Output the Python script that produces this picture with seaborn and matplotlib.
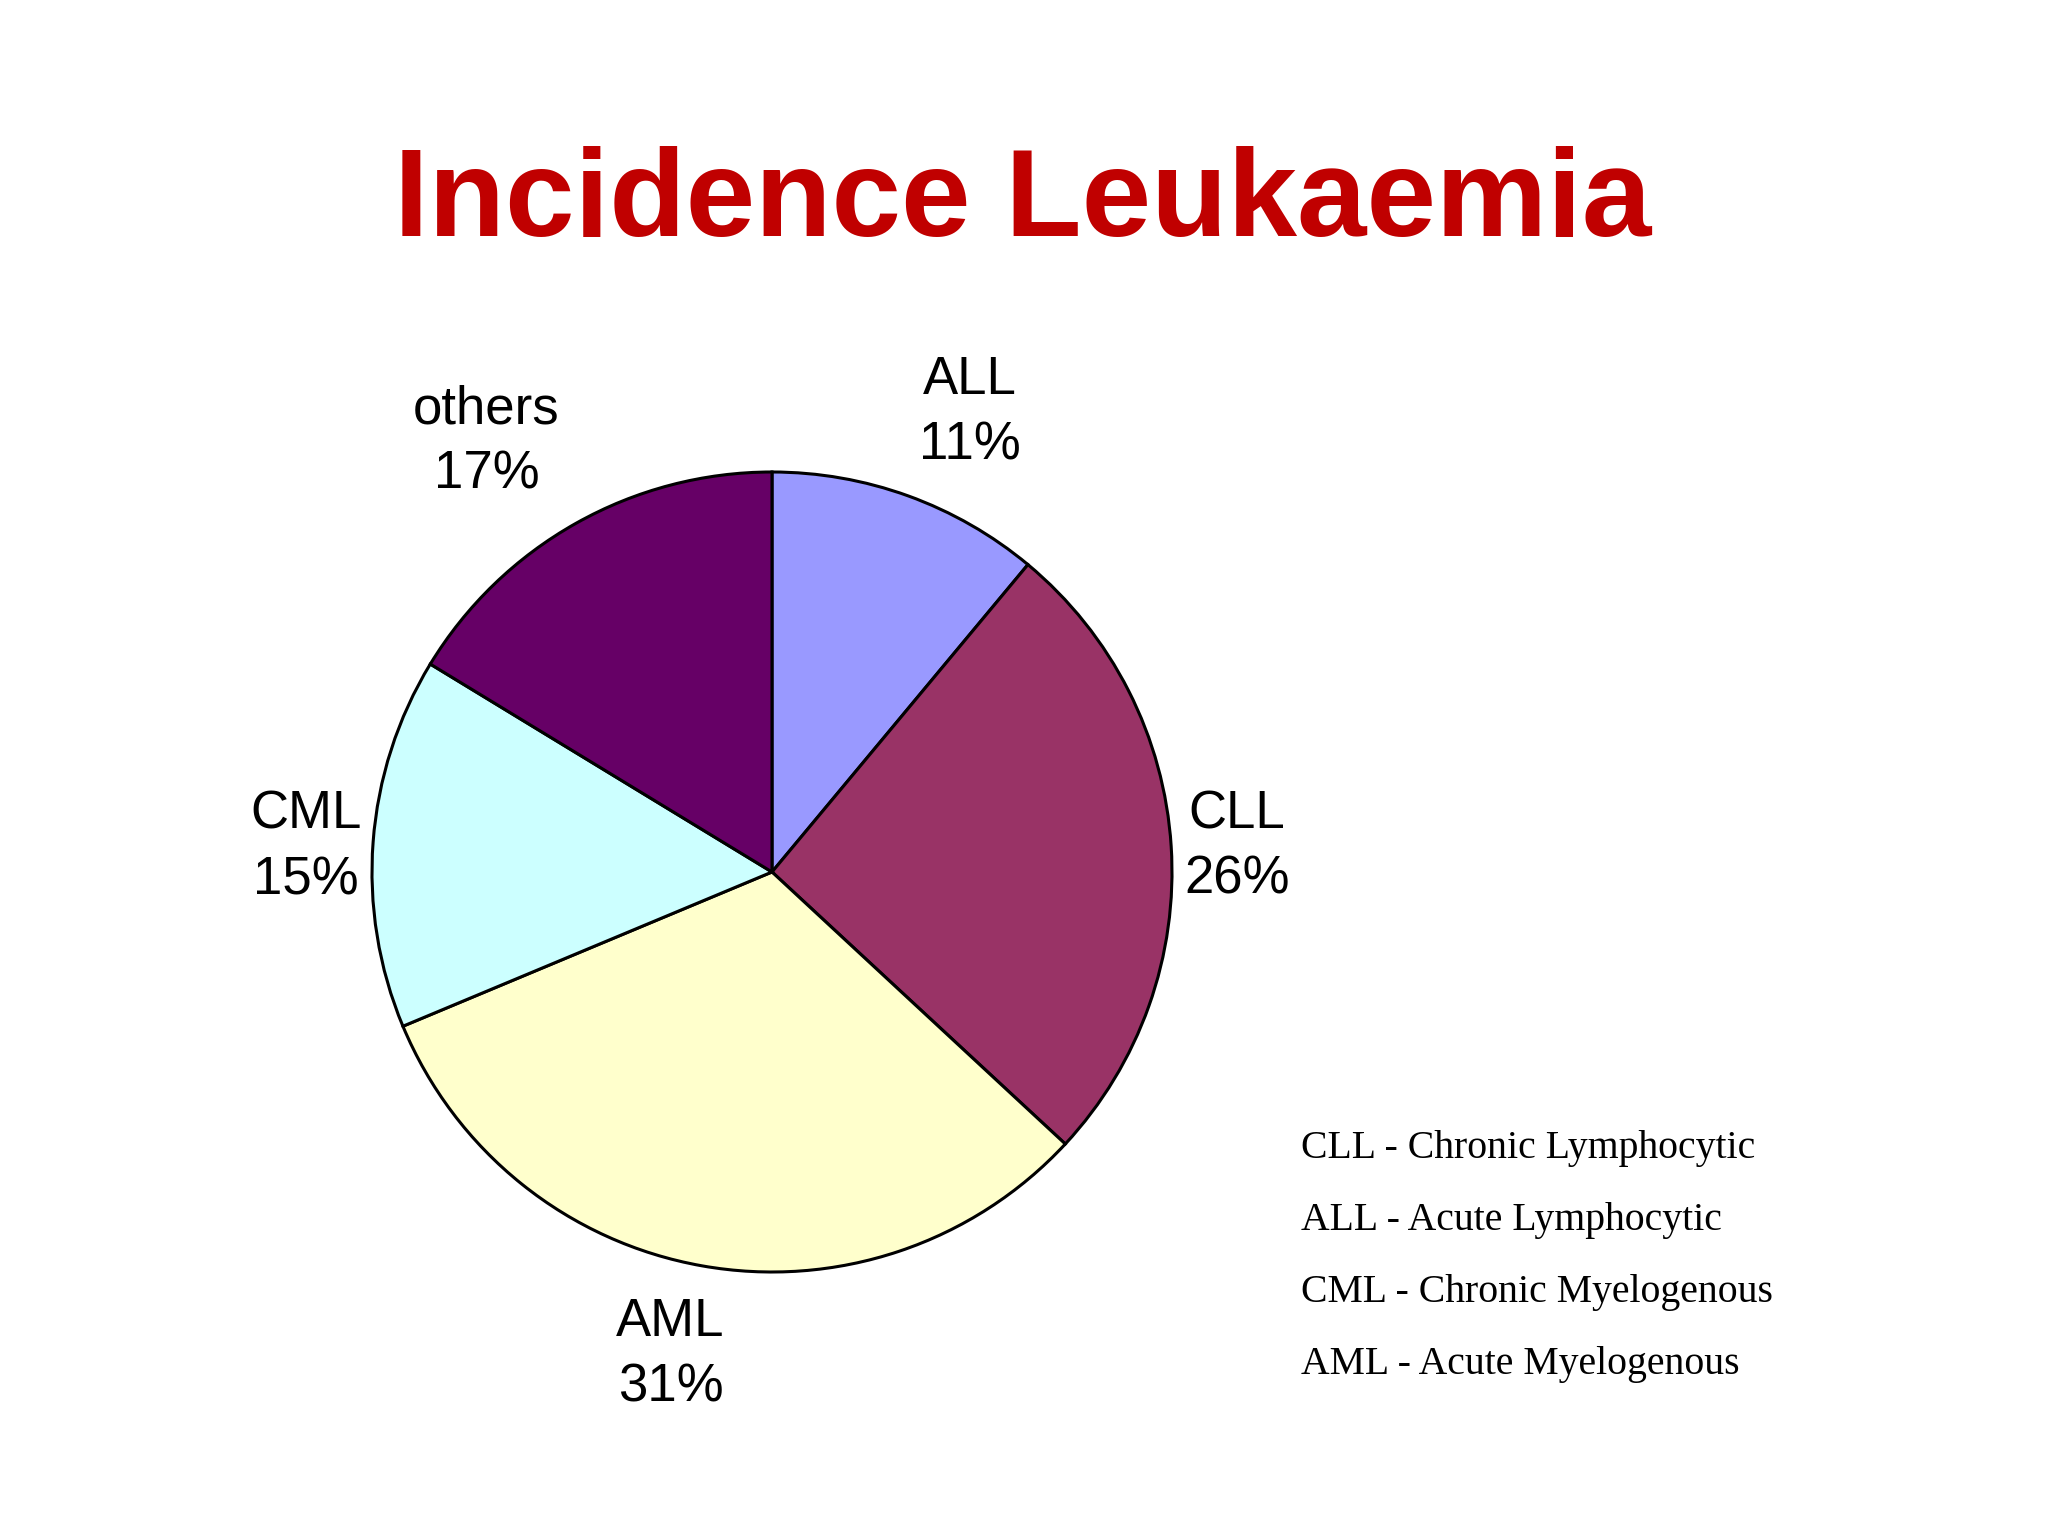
import numpy as np
import matplotlib
matplotlib.use("Agg")
import matplotlib.pyplot as plt
import seaborn as sns

# ---- data ----
categories = ["ALL", "CLL", "AML", "CML", "others"]
# slice sizes as drawn in the picture (angles measured), and the printed labels
slice_sizes = [11.05, 25.85, 31.8, 15.0, 16.3]
pct_labels = ["11%", "26%", "31%", "15%", "17%"]
slice_colors = ["#9999FF", "#993366", "#FFFFCC", "#CCFFFF", "#660066"]
legend_lines = [
    "CLL - Chronic Lymphocytic",
    "ALL - Acute Lymphocytic",
    "CML - Chronic Myelogenous",
    "AML - Acute Myelogenous",
]
title_text = "Incidence Leukaemia"

# label placement tweaks (radius multiples, degree nudges)
label_dist = [1.25, 1.164, 1.234, 1.166, 1.29]
label_nudge = [-3.4, -0.6, -1.8, 1.3, 4.25]

sns.set_theme(style="white")
plt.rcParams["font.family"] = ["Liberation Sans", "DejaVu Sans"]

fig = plt.figure(figsize=(10.24, 7.68), dpi=200)
fig.patch.set_facecolor("white")

# pie centre at (772, 872) px, radius 400 px
ax = fig.add_axes([272 / 2048, (1536 - 872 - 500) / 1536, 1000 / 2048, 1000 / 1536])
wedges, _ = ax.pie(
    slice_sizes,
    colors=slice_colors,
    startangle=90,
    counterclock=False,
    radius=1.0,
    wedgeprops=dict(edgecolor="black", linewidth=1.1),
)
ax.set_xlim(-1.25, 1.25)
ax.set_ylim(-1.25, 1.25)
ax.set_aspect("equal")
ax.axis("off")

for w, cat, pct, d, nudge in zip(wedges, categories, pct_labels, label_dist, label_nudge):
    mid = np.deg2rad((w.theta1 + w.theta2) / 2 + nudge)
    ax.text(d * np.cos(mid), d * np.sin(mid), f"{cat}\n{pct}",
            ha="center", va="center", fontsize=19, color="black",
            linespacing=1.39, clip_on=False)

fig.text(1023 / 2048, 1 - 236 / 1536, title_text, ha="center", va="baseline",
         fontsize=45, fontweight="bold", color="#C00000")

for i, line in enumerate(legend_lines):
    fig.text(1301 / 2048, 1 - (1158 + 72 * i) / 1536, line, ha="left", va="baseline",
             fontsize=14.3, color="black", family=["Liberation Serif", "DejaVu Serif"])

fig.savefig("out.png", dpi=200, facecolor="white")
